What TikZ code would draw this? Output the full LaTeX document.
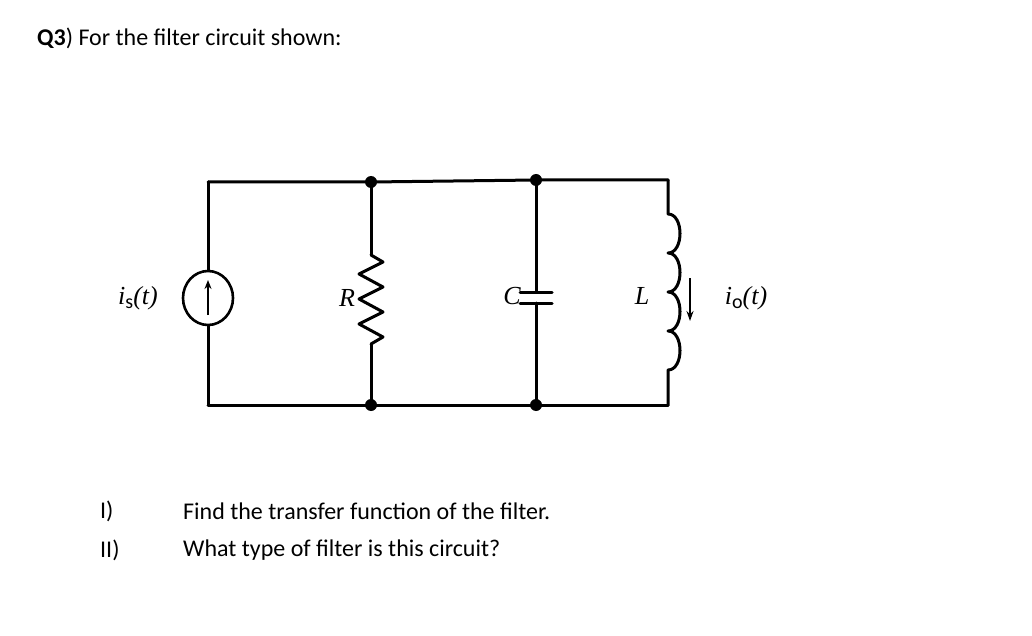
\documentclass[tikz,border=0pt]{standalone}
\usepackage{fontspec}
\setmainfont{Carlito}
\newfontfamily\tms{Liberation Serif}
\usetikzlibrary{arrows.meta,shapes.geometric}
\begin{document}
\begin{tikzpicture}[x=1pt,y=-1pt,
  wire/.style={line width=3pt,line cap=round,line join=round},
  dot/.style={circle,fill=black,inner sep=0pt,minimum size=12pt},
  lbl/.style={font=\tms\itshape\fontsize{26}{28}\selectfont,inner sep=1pt},
  txt/.style={font=\fontsize{24}{28}\selectfont,anchor=west,inner sep=0pt}]
\useasboundingbox (0,0) rectangle (1032,636);
\node[txt] (q) at (37,38) {\textbf{Q3}) For the filter circuit shown:};
\node[txt] (i1) at (100,511) {I)};
\node[txt] (i2) at (100,550) {II)};
\node[txt] (t1) at (183,511) {Find the transfer function of the filter.};
\node[txt] (t2) at (183,550) {What type of filter is this circuit?};
% corners and junctions
\coordinate (tl) at (208,182); \coordinate (bl) at (208,405);
\node[dot] (tR) at (371,182) {}; \node[dot] (bR) at (371,405) {};
\node[dot] (tC) at (536,180) {}; \node[dot] (bC) at (536,405) {};
\coordinate (tr) at (668,180); \coordinate (br) at (668,405);
\draw[wire] (tl) -- (tR.center) -- (tC.center) -- (tr);
\draw[wire] (bl) -- (bR.center) -- (bC.center) -- (br);
% source
\node[draw,ellipse,line width=2.6pt,minimum width=50pt,minimum height=54pt,inner sep=0pt] (src) at (208,298) {};
\draw[wire] (tl) -- (src.north);
\draw[wire] (bl) -- (src.south);
\draw[line width=1.8pt,-{Stealth[length=9pt,width=7pt]}] (208,315) -- (208,280);
% resistor
\coordinate (r1) at (371,255); \coordinate (r2) at (371,344);
\draw[wire] (tR.center) -- (r1);
\draw[wire] (r1) -- (383,262) -- (359,274) -- (383,287) -- (359,299) -- (383,312) -- (359,324) -- (383,337) -- (r2);
\draw[wire] (r2) -- (bR.center);
% capacitor
\coordinate (c1) at (536,292); \coordinate (c2) at (536,303);
\draw[wire] (tC.center) -- (c1); \draw[wire] (c2) -- (bC.center);
\draw[wire] (520,292) -- (552,292); \draw[wire] (520,303) -- (552,303);
% inductor
\coordinate (l1) at (668,214); \coordinate (l5) at (668,370);
\draw[wire] (tr) -- (l1)
  .. controls (684,214) and (684,253) .. (668,253)
  .. controls (684,253) and (684,292) .. (668,292)
  .. controls (684,292) and (684,331) .. (668,331)
  .. controls (684,331) and (684,370) .. (l5) -- (br);
\draw[line width=1.8pt,-{Stealth[length=10pt,width=7pt]}] (690,278) -- (690,321);
% labels
\node[lbl] (ls) at (138,298) {\textit{i}\raisebox{-4pt}{\fontspec{Carlito}\upshape\fontsize{20}{20}\selectfont s}(\textit{t})};
\node[lbl] (lR) at (347,298) {R};
\node[lbl] (lC) at (512,296) {C};
\node[lbl] (lL) at (642,296) {L};
\node[lbl] (lo) at (746,298) {\textit{i}\raisebox{-4pt}{\fontspec{Carlito}\upshape\fontsize{20}{20}\selectfont o}(\textit{t})};
\end{tikzpicture}
\end{document}
